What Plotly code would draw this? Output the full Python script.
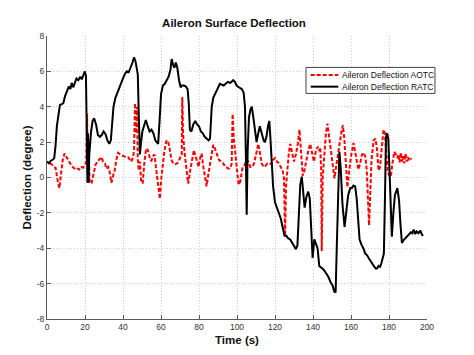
import plotly.graph_objects as go

# ---- data ----
t_ratc = [0, 1, 2, 3, 3.8, 4.5, 5.2, 6, 6.8, 7.8, 8.6, 9.5, 10.5, 11.5, 12.3, 13, 13.8, 14.6, 15.5, 16.5,
          17.5, 18.3, 19.2, 19.9, 20.5, 21, 21.3, 21.6, 21.9, 22.2, 22.6, 23.2, 24, 24.8, 25.8, 26.8, 27.8,
          28.8, 29.8, 30.8, 31.8, 32.8, 33.6, 34.3, 35, 36, 37, 38, 39, 40, 41, 42, 43, 44, 45, 45.8, 46.5,
          47.2, 47.8, 48.3, 48.9, 49.5, 50.2, 51, 52, 53, 54, 55, 56, 57, 58.5, 59.3, 60, 61, 62, 63, 64, 65,
          65.6, 66.3, 67, 67.8, 68.6, 69.5, 70.3, 71, 72, 73, 74, 74.6, 75.2, 76, 77, 78, 79, 80, 81, 82, 83,
          84, 85, 85.8, 86.7, 87.5, 88.4, 89.5, 91, 92, 93, 94, 95.2, 96.5, 98, 99, 99.8, 101, 102.5, 103.5,
          104.2, 104.7, 105.1, 105.6, 106.3, 107.2, 107.8, 108.6, 109.5, 110.3, 111, 112, 113, 114, 114.7,
          115.5, 116.3, 117, 117.6, 118.3, 119, 120, 121, 122, 123, 124, 125, 126, 127, 128, 129, 130, 131,
          131.8, 132.5, 133.3, 134.1, 134.8, 135.6, 136.5, 137.5, 138.3, 139, 139.8, 140.7, 141.5, 142.4,
          143.3, 144.5, 145.5, 146.8, 148, 149.4, 150.3, 151.2, 151.9, 152.5, 153.2, 153.9, 154.6, 155.5,
          156.6, 157.5, 158.5, 159.6, 160.5, 161.3, 162.2, 163, 163.7, 164.5, 165.5, 166.5, 167.5, 168.5,
          169.3, 170.1, 171, 172, 173, 173.7, 174.5, 175.3, 176, 176.7, 177.3, 177.9, 178.4, 179, 179.6,
          180.2, 180.8, 181.5, 182.3, 183.1, 184.4, 185.3, 186, 186.8, 187.6, 188.5, 189.4, 190.5, 191.5,
          192.3, 193, 193.8, 194.6, 195.5, 196.5, 197.2, 197.9]
v_ratc = [0.9, 0.8, 0.95, 1.0, 1.1, 1.8, 2.9, 3.6, 4.1, 4.15, 4.2, 4.6, 4.9, 5.15, 5.0, 5.35, 5.1, 5.3, 5.6, 5.5,
          5.7, 5.55, 5.8, 6.0, 5.75, 3.0, -0.3, 2.5, -0.3, 1.2, 2.0, 2.6, 3.2, 3.35, 3.0, 2.4, 2.3,
          2.4, 2.6, 2.45, 2.1, 1.9, 2.1, 3.2, 4.0, 4.5, 4.8, 5.1, 5.4, 5.6, 5.85, 6.0, 5.95, 6.2, 6.5, 6.8, 6.6,
          6.2, 5.8, 3.5, 1.3, 2.0, 2.6, 2.9, 3.25, 2.9, 2.6, 2.7, 2.5, 2.1, 1.9, 3.3, 4.7, 5.2, 5.3, 5.5, 5.7, 6.1,
          6.7, 6.4, 6.2, 6.5, 6.2, 5.5, 5.1, 5.2, 5.2, 5.15, 5.0, 4.2, 2.7, 2.6, 3.0, 3.2, 3.0, 2.9, 2.6, 2.5, 2.3,
          2.2, 2.1, 2.2, 4.0, 4.5, 4.7, 5.0, 5.3, 5.25, 5.2, 5.3, 5.4, 5.35, 5.5, 5.4, 5.2, 5.1, 5.0, 4.8,
          4.0, 1.0, -2.1, 1.5, 3.4, 3.9, 4.0, 3.4, 2.7, 2.0, 2.4, 2.9, 2.5, 2.1, 2.0,
          2.3, 2.9, 3.2, 2.2, 0.9, -0.5, -1.4, -1.7, -1.9, -2.3, -2.8, -3.3, -3.3, -3.45, -3.5, -3.7, -3.9, -4.05,
          -3.85, -2.5, -0.4, 0.05, -0.8, -1.7, -1.1, -0.8, -1.2, -2.5, -4.55, -3.5, -3.7, -4.0,
          -5.0, -5.1, -5.2, -5.4, -5.6, -5.95, -6.1, -6.45, -6.5, -4.0, -0.5, 1.45, 0.5, -1.5,
          -2.8, -2.0, -1.0, -0.6, -0.6, -0.45, -0.5, -1.2, -2.6, -3.5, -3.8, -4.0, -4.3, -4.4,
          -4.55, -4.7, -4.85, -5.0, -5.15, -5.15, -5.0, -5.05, -4.85, -4.6, -4.3, -1.0, 2.3, 2.5, 2.2,
          0.6, -2.0, -3.35, -2.0, -1.0, -0.6, -1.3, -2.6, -3.7, -3.55, -3.45, -3.3, -3.2, -3.1,
          -3.15, -2.95, -3.2, -3.05, -3.15, -3.0, -3.2, -3.3]

t_aotc = [1.5, 2.5, 3.5, 4.5, 5.5, 6.5, 7.5, 8.3, 9.2, 10, 11, 12, 13, 14, 15, 16, 17, 18, 19, 20, 20.6, 21.1,
          21.5, 21.9, 22.4, 23.4, 24.5, 25.5, 26.5, 27.5, 28.7, 29.5, 30.5, 31.3, 32.2, 33, 33.9, 34.8, 35.6,
          36.5, 37.4, 38.5, 39.5, 40.5, 41.5, 42.7, 43.5, 44.3, 45.2, 45.8, 46.3, 46.8, 47.3, 47.8, 48.3, 48.9,
          49.6, 50.4, 51.2, 52, 52.7, 53.5, 54.3, 55, 55.8, 56.6, 57.3, 58, 58.6, 59.4, 60.2, 61, 61.8, 62.9,
          63.8, 64.6, 65.5, 66.4, 67.5, 68.5, 69.5, 70.3, 70.9, 71.2, 71.6, 72.3, 73.2, 74.3, 75.2, 76.2, 77.3,
          78.2, 79, 79.8, 80.6, 81.4, 82.3, 83.2, 84, 84.8, 85.6, 86.5, 87.5, 88.5, 89.5, 90.5, 91.5, 92.8,
          93.8, 94.8, 95.8, 96.6, 97.2, 97.7, 98.3, 99, 99.8, 100.7, 101.4, 102.2, 103, 104, 105, 106, 107,
          108, 109, 110, 111.2, 112.2, 113, 114, 115, 116, 117, 118, 119, 120, 121, 122, 123, 124, 124.7,
          125.3, 125.8, 126.5, 127.2, 128, 129, 130, 131, 132, 132.9, 133.7, 134.6, 135.5, 136.5, 137.5,
          138.5, 139.5, 140.5, 141.5, 142.5, 143.3, 143.8, 144.3, 144.6, 145.1, 145.8, 146.8, 147.6, 148.5,
          149.5, 150.4, 151.3, 152.3, 153.3, 154.2, 155, 155.7, 156.5, 157.3, 158.1, 159, 160, 161.3, 162.2,
          163, 163.9, 164.8, 165.8, 166.7, 167.5, 168.3, 169, 169.5, 170.1, 170.8, 171.9, 172.8, 173.7,
          174.5, 175.3, 176.2, 177.1, 177.8, 178.5, 179.3, 180.2, 181, 181.8, 182.8, 183.6, 184.4, 185,
          185.6, 186.2, 186.8, 187.4, 188, 188.7, 189.3, 190, 190.6, 191.2, 191.8]
v_aotc = [0.8, 0.75, 0.6, 0.55, -0.1, -0.6, 0.3, 1.0, 1.35, 1.2, 0.95, 0.8, 0.65, 0.55, 0.45, 0.5, 0.45, 0.6,
          0.55, 0.7, 0.9, 3.6, -0.3, 2.2, -0.2, -0.35, 0.3, 0.7, 0.9, 1.0, 1.15, 0.9, 0.8, 0.5, 0.6, 0.3, -0.3,
          0.1, 0.4, 1.0, 1.4, 1.3, 1.25, 1.2, 1.15, 1.15, 1.0, 0.9, 1.1, 1.5, 4.2, 2.5, 4.0, 1.0, 0.4, 0.9,
          -0.3, -0.3, 0.8, 1.5, 1.65, 1.4, 1.0, 0.95, 1.2, 1.3, 0.6, 0.0, -0.4, -1.2, 0.0, 0.8, 1.5, 2.1,
          2.0, 1.6, 1.0, 0.8, 0.75, 0.8, 0.95, 1.2, 1.3, 4.55, 2.5, 1.5, 0.5, -0.35, 0.3, 1.0, 1.55,
          1.2, 0.8, 0.6, 1.1, 1.35, 0.6, -0.15, -0.5, 0.1, 0.6, 1.4, 1.85, 1.6, 1.3, 1.0, 0.9, 0.8,
          0.6, 0.55, 0.5, 0.55, 0.8, 3.6, 2.2, 1.5, 0.5, -0.3, -0.4, 0.1, 0.6, 0.7, 1.0, 0.9, 0.6,
          0.6, 0.8, 1.3, 1.9, 1.3, 0.8, 0.6, 0.65, 0.8, 0.8, 0.75, 1.0, 1.1, 0.9, 0.8, 0.6, 0.4, 0.0,
          -3.3, -0.5, 0.6, 1.3, 1.9, 1.4, 0.9, 1.3, 1.9, 2.7, 1.4, 0.1, 0.4, 1.0, 1.5,
          1.9, 1.3, 0.9, 1.5, 1.75, 1.5, 1.7, 0.5, -4.15, 0.0, 1.2, 2.5, 3.05, 2.3,
          1.5, 0.6, -0.05, 0.7, 1.5, 2.0, 2.6, 2.95, 2.2, 0.8, -0.55, 0.3, 1.2, 1.95, 1.5,
          0.9, 0.45, 0.8, 1.3, 1.4, 1.2, 0.4, -1.2, -2.7, -1.0, 1.0, 2.1, 2.2, 1.6,
          0.4, 0.6, 1.5, 2.7, 2.55, 1.4, 0.35, 0.1, 0.05, 0.8, 1.45, 1.3, 1.1, 1.3,
          0.85, 1.4, 0.9, 1.2, 0.8, 1.35, 0.9, 1.15, 0.95, 1.0, 1.1]

x_ticks = [0, 20, 40, 60, 80, 100, 120, 140, 160, 180, 200]
y_ticks = [-8, -6, -4, -2, 0, 2, 4, 6, 8]
names = ["Aileron Deflection AOTC", "Aileron Deflection RATC"]
colors = ["#ff0000", "#000000"]
dashes = ["4px,2px", "solid"]

FONT = "Liberation Sans, Arial, sans-serif"
AXC = "#5a5a5a"
GRID = "#cfcfcf"

# the page body has an 8px default margin, so the figure is sized/offset to compensate
W, H = 466, 347

fig = go.Figure()
fig.add_trace(go.Scatter(x=t_aotc, y=v_aotc, mode="lines", name=names[0],
                         line=dict(color=colors[0], width=2, dash=dashes[0])))
fig.add_trace(go.Scatter(x=t_ratc, y=v_ratc, mode="lines", name=names[1],
                         line=dict(color=colors[1], width=2, dash=dashes[1])))

# compact boxed legend (MATLAB style), placed in paper coordinates
shapes = [dict(type="rect", xref="paper", yref="paper", x0=0.6816, x1=1.021, y0=0.797, y1=0.889,
               line=dict(color="#444", width=1), fillcolor="white", layer="above")]
annotations = []
for i, ly in enumerate([0.862, 0.821]):
    shapes.append(dict(type="line", xref="paper", yref="paper", x0=0.694, x1=0.7666, y0=ly, y1=ly,
                       line=dict(color=colors[i], width=2, dash=dashes[i]), layer="above"))
    annotations.append(dict(text=names[i], xref="paper", yref="paper", x=0.771, y=ly,
                            xanchor="left", yanchor="middle", showarrow=False,
                            font=dict(size=8.5, color="#111", family=FONT)))

fig.update_layout(
    width=W, height=H,
    margin=dict(l=39, r=47, t=28, b=36),
    paper_bgcolor="white", plot_bgcolor="white",
    font=dict(family=FONT, size=9, color="#222"),
    title=dict(text="<b>Aileron Surface Deflection</b>", x=226 / W, xanchor="center",
               y=1 - 15 / H, yanchor="middle", font=dict(size=11.5, color="#111")),
    showlegend=False,
    shapes=shapes,
    annotations=annotations,
    xaxis=dict(range=[0, 200], tickvals=x_ticks, ticktext=[str(v) for v in x_ticks],
               showline=True, linecolor=AXC, linewidth=1, mirror=False, automargin=False,
               ticks="inside", ticklen=4, tickcolor=AXC,
               showgrid=True, gridcolor=GRID, griddash="1px,2px", gridwidth=1, zeroline=False,
               tickfont=dict(size=8.5, color="#333"),
               title=dict(text="<b>Time (s)</b>", font=dict(size=11.5, color="#111"), standoff=4)),
    yaxis=dict(range=[-8, 8], tickvals=y_ticks, ticktext=[str(v) for v in y_ticks],
               showline=True, linecolor=AXC, linewidth=1, mirror=False, automargin=False,
               ticks="inside", ticklen=4, tickcolor=AXC,
               showgrid=True, gridcolor=GRID, griddash="1px,2px", gridwidth=1, zeroline=False,
               tickfont=dict(size=8.5, color="#333"),
               title=dict(text="<b>Deflection (degree)</b>", font=dict(size=11.5, color="#111"), standoff=2)),
)

fig.write_html("out.html")
